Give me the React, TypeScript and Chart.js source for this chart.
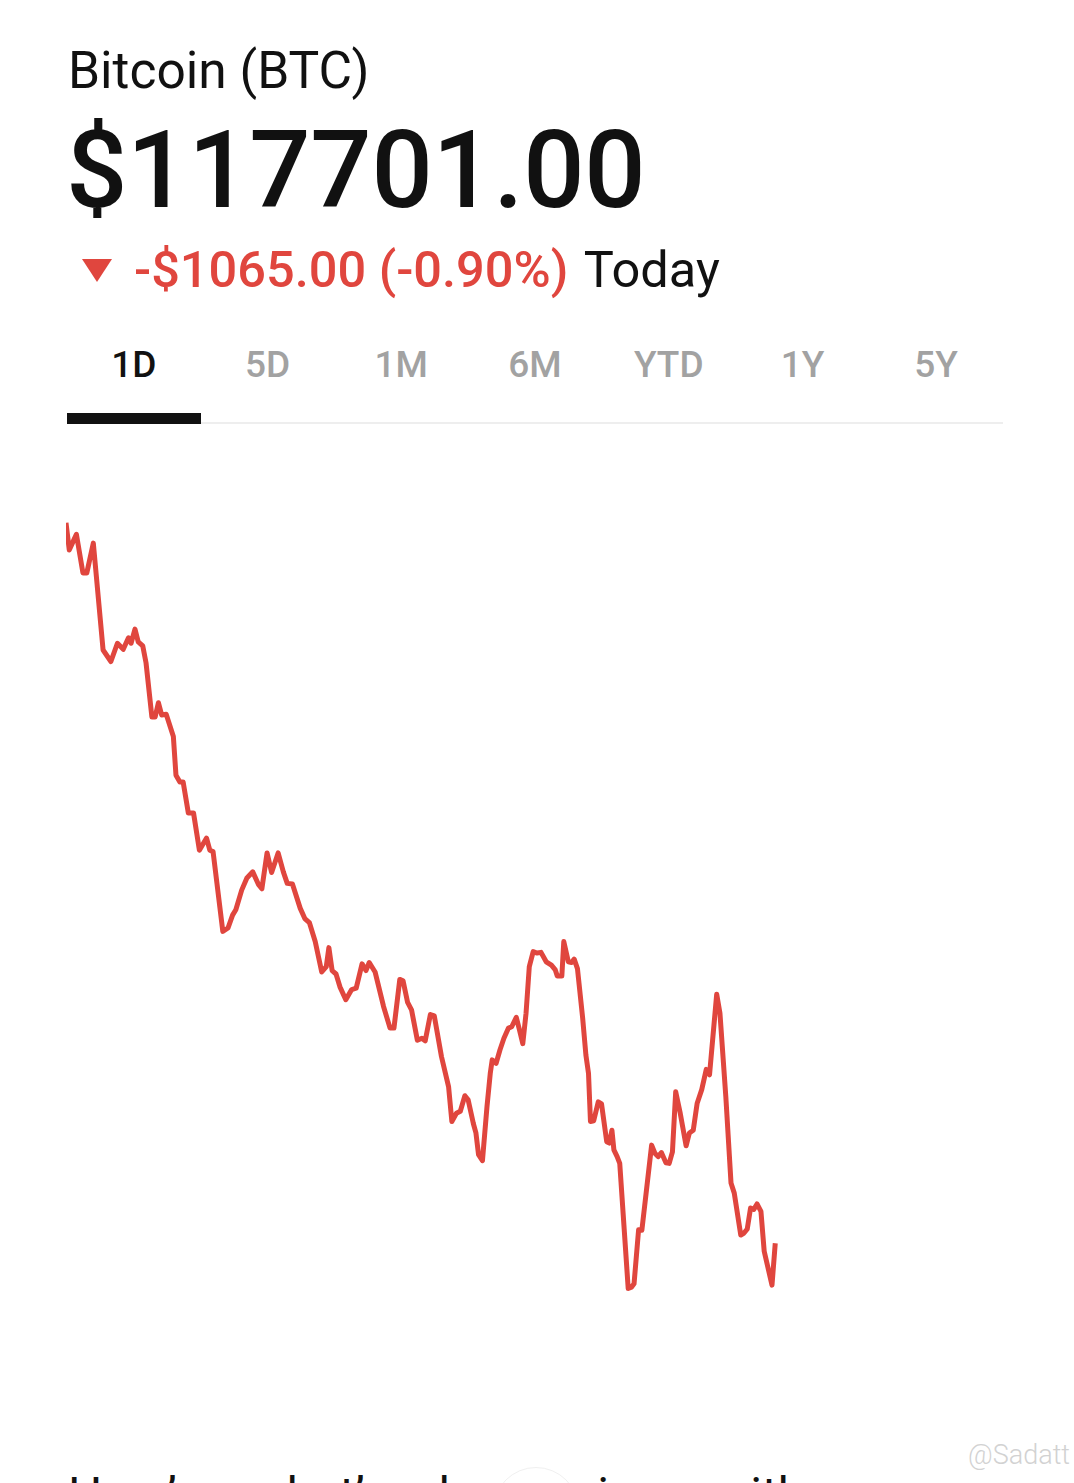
import React, { useEffect, useRef } from "react";
import { Chart, registerables } from "chart.js";

Chart.register(...registerables);

// Minutes since the start of the 1D window (full window = 1440 min)
const times: number[] = [
  0, 5, 16, 26, 32, 42, 57, 69, 79, 88, 96, 100, 106, 111, 118, 123, 132, 137, 142, 147,
  154, 165, 169, 175, 180, 188, 196, 205, 216, 221, 226, 241, 249, 256, 261, 270, 278, 287, 296, 301,
  309, 316, 326, 334, 340, 348, 360, 367, 374, 383, 393, 400, 404, 409, 415, 421, 430, 439, 446, 455,
  461, 466, 475, 488, 498, 504, 513, 518, 525, 531, 540, 547, 552, 560, 566, 577, 588, 593, 600, 606,
  613, 618, 626, 630, 634, 640, 647, 652, 655, 661, 667, 673, 680, 685, 692, 697, 702, 707, 712, 718,
  724, 730, 738, 746, 752, 755, 762, 765, 772, 777, 781, 786, 794, 799, 803, 806, 811, 818, 823, 831,
  835, 839, 842, 847, 851, 864, 869, 873, 880, 885, 900, 905, 910, 915, 922, 927, 932, 937, 944, 953,
  958, 964, 970, 977, 984, 989, 1000, 1005, 1014, 1022, 1027, 1037, 1042, 1047, 1052, 1057, 1062, 1068, 1073, 1085,
  1090,
];

// BTC price (USD)
const prices: number[] = [
  118766, 118726, 118749, 118692, 118692, 118736, 118578, 118561, 118588, 118579, 118596, 118588, 118609, 118590, 118584, 118559, 118479, 118479, 118500, 118482,
  118483, 118450, 118393, 118383, 118383, 118337, 118337, 118282, 118300, 118282, 118280, 118162, 118167, 118186, 118194, 118223, 118241, 118250, 118231, 118225,
  118278, 118249, 118278, 118250, 118233, 118232, 118196, 118181, 118175, 118147, 118102, 118110, 118138, 118104, 118099, 118080, 118061, 118076, 118078, 118114,
  118104, 118116, 118102, 118051, 118019, 118019, 118091, 118089, 118057, 118046, 118001, 118004, 118000, 118039, 118037, 117977, 117932, 117881, 117893, 117896,
  117919, 117913, 117878, 117864, 117832, 117823, 117903, 117952, 117972, 117967, 117987, 118004, 118019, 118021, 118035, 118016, 117996, 118041, 118110, 118132,
  118130, 118131, 118117, 118112, 118105, 118096, 118096, 118147, 118117, 118116, 118121, 118107, 118034, 117979, 117952, 117881, 117882, 117910, 117907, 117851,
  117849, 117868, 117839, 117829, 117819, 117634, 117636, 117641, 117721, 117720, 117846, 117834, 117829, 117835, 117820, 117819, 117836, 117925, 117893, 117845,
  117864, 117868, 117908, 117928, 117958, 117950, 118069, 118041, 117918, 117790, 117775, 117713, 117716, 117722, 117753, 117751, 117759, 117748, 117689, 117639,
  117701,
];

const tabs: string[] = ["1D", "5D", "1M", "6M", "YTD", "1Y", "5Y"];
const title = "Bitcoin (BTC)";
const priceLabel = "$117701.00";
const changeLabel = "-$1065.00 (-0.90%)";

const RED = "#e0463e";
const FONT = "Roboto, 'Noto Sans', sans-serif";

function PriceChart() {
  const ref = useRef<HTMLCanvasElement | null>(null);
  useEffect(() => {
    if (!ref.current) return;
    const chart = new Chart(ref.current, {
      type: "line",
      data: {
        datasets: [
          {
            data: times.map((t, i) => ({ x: t, y: prices[i] })),
            borderColor: RED,
            borderWidth: 5,
            borderJoinStyle: "round",
            pointRadius: 0,
            tension: 0,
            fill: false,
          },
        ],
      },
      options: {
        animation: false,
        responsive: false,
        maintainAspectRatio: false,
        layout: { padding: { left: 10, right: 10, top: 10, bottom: 10 } },
        plugins: { legend: { display: false }, tooltip: { enabled: false } },
        scales: {
          x: { type: "linear", min: 0, max: 1440, display: false },
          y: { min: 117617, max: 118785, display: false },
        },
      },
    });
    return () => chart.destroy();
  }, []);
  return (
    <canvas
      ref={ref}
      width={957}
      height={810}
      style={{ position: "absolute", left: 56, top: 500, width: 957, height: 810 }}
    />
  );
}

export default function App() {
  return (
    <div
      style={{
        position: "absolute",
        left: 0,
        top: 0,
        width: 1074,
        height: 1483,
        overflow: "hidden",
        background: "#ffffff",
        fontFamily: FONT,
      }}
    >
      <div style={{ position: "absolute", left: 68, top: 45, fontSize: 51.5, lineHeight: "51.5px", color: "#111" }}>
        {title}
      </div>
      <div
        style={{
          position: "absolute",
          left: 66,
          top: 116,
          fontSize: 108,
          lineHeight: "108px",
          fontWeight: 500,
          color: "#111",
          letterSpacing: -0.3,
        }}
      >
        {priceLabel}
      </div>
      <div
        style={{
          position: "absolute",
          left: 82,
          top: 259,
          width: 0,
          height: 0,
          borderLeft: "15px solid transparent",
          borderRight: "15px solid transparent",
          borderTop: `23px solid ${RED}`,
        }}
      />
      <div
        style={{
          position: "absolute",
          left: 134,
          top: 244,
          fontSize: 50.5,
          lineHeight: "51px",
          whiteSpace: "nowrap",
        }}
      >
        <span style={{ color: RED, fontWeight: 500 }}>{changeLabel}</span>
        <span style={{ color: "#111", marginLeft: 4 }}> Today</span>
      </div>
      <div style={{ position: "absolute", left: 67, top: 346, width: 936, display: "flex" }}>
        {tabs.map((t, i) => (
          <div
            key={t}
            style={{
              flex: 1,
              textAlign: "center",
              fontSize: 37,
              lineHeight: "38px",
              fontWeight: 500,
              color: i === 0 ? "#111" : "#a2a2a2",
            }}
          >
            {t}
          </div>
        ))}
      </div>
      <div style={{ position: "absolute", left: 201, top: 422, width: 802, height: 2, background: "#eeeeee" }} />
      <div style={{ position: "absolute", left: 67, top: 413, width: 134, height: 11, background: "#111" }} />
      <PriceChart />
      <div
        style={{
          position: "absolute",
          left: 968,
          top: 1440,
          fontSize: 27,
          lineHeight: "30px",
          color: "#d2d2d2",
          fontWeight: 300,
        }}
      >
        @Sadatt
      </div>
      <div
        style={{
          position: "absolute",
          left: 493,
          top: 1467,
          width: 84,
          height: 84,
          borderRadius: "50%",
          border: "1px solid #f0f0f0",
        }}
      />
      <div
        style={{
          position: "absolute",
          left: 68,
          top: 1471,
          fontSize: 48,
          lineHeight: "48px",
          color: "#111",
          whiteSpace: "nowrap",
          wordSpacing: 40,
        }}
      >
        Here’s what’s happening with
      </div>
    </div>
  );
}
